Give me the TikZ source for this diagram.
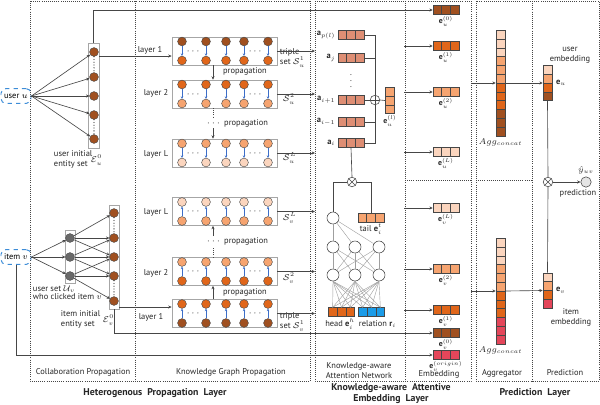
\RequirePackage{fix-cm}
\documentclass[tikz,border=0pt]{standalone}
\usepackage{amsmath}
\usepackage{fontspec}
\setmainfont{PT Sans}
\usepackage{tikz}
\usetikzlibrary{arrows.meta,calc,positioning}
\DeclareMathSizes{6}{6}{4.2}{3.4}
\DeclareMathSizes{5.5}{5.5}{3.9}{3.2}

\definecolor{kbrown}{RGB}{160,80,32}
\definecolor{korange}{RGB}{224,102,26}
\definecolor{klight}{RGB}{246,164,112}
\definecolor{kpale}{RGB}{251,213,190}
\definecolor{kred}{RGB}{228,70,90}
\definecolor{ksalmon}{RGB}{222,142,116}
\definecolor{kblue}{RGB}{28,156,232}
\definecolor{kgrey}{RGB}{105,105,105}
\definecolor{kdash}{RGB}{60,140,215}
\definecolor{kline}{RGB}{70,70,70}
\definecolor{kprop}{RGB}{60,110,200}

\tikzset{
  lbl/.style={font=\fontsize{6}{7}\selectfont, inner sep=0.5pt, text=black!85},
  vlbl/.style={font=\fontsize{5.5}{6}\selectfont, inner sep=0.5pt, text=black!85},
  layername/.style={font=\bfseries\fontsize{7}{7.2}\selectfont, align=center, inner sep=0pt, text=black!85},
  framebox/.style={draw=kline, densely dotted, line width=0.5pt},
  conn/.style={draw=kline, line width=0.45pt},
  arr/.style={conn, -{Stealth[length=2.4pt, width=2.2pt]}},
  kgarrow/.style={draw=kprop, line width=0.45pt, -{Stealth[length=1.8pt, width=1.8pt]}},
  nnline/.style={draw=gray!75, line width=0.3pt},
  dotline/.style={draw=kline, line width=0.9pt, dash pattern=on 0pt off 2pt, line cap=round},
  ent/.style={circle, draw=kline, line width=0.3pt, inner sep=0pt, minimum size=0.22cm},
  setbox/.style={draw=gray!70, line width=0.5pt, fill=white, inner sep=0pt},
  vecbox/.style={draw=gray!55!black, line width=0.4pt, inner sep=0pt, minimum width=0.65cm, minimum height=0.22cm},
  cellbox/.style={draw=gray!55!black, line width=0.4pt, inner sep=0pt, minimum width=0.225cm, minimum height=0.22cm},
  neuron/.style={circle, draw=kline, fill=white, line width=0.4pt, inner sep=0pt, minimum size=0.3cm},
  opnode/.style={circle, draw=kline, fill=white, line width=0.4pt, inner sep=0pt, minimum size=0.24cm},
  prodnode/.style={opnode, path picture={\draw[kline, line width=0.4pt] (path picture bounding box.north west) -- (path picture bounding box.south east) (path picture bounding box.north east) -- (path picture bounding box.south west);}},
  sumnode/.style={opnode, path picture={\draw[kline, line width=0.4pt] (path picture bounding box.north) -- (path picture bounding box.south) (path picture bounding box.west) -- (path picture bounding box.east);}},
  seed/.style={draw=kdash, dashed, line width=0.7pt, rounded corners=0.12cm, minimum width=0.75cm, minimum height=0.37cm, inner sep=1pt, font=\fontsize{6}{7}\selectfont},
}

% three-cell row vector: name, centre, colour
\newcommand{\hvec}[3]{%
  \node[vecbox, fill=#3] (#1) at (#2) {};
  \foreach \k in {1,2}
    \draw[draw=gray!55!black, line width=0.4pt] ($(#1.north west)!\k/3!(#1.north east)$) -- ($(#1.south west)!\k/3!(#1.south east)$);
}
% stacked column of cells: name, centre, number, colours
\newcommand{\cellcol}[4]{%
  \node[cellbox, minimum height=#3*0.22cm] (#1) at (#2) {};
  \foreach \c [count=\j] in {#4}
    \node[cellbox, fill=\c, anchor=north] at ($(#1.north)+(0,{(\j-1)*8.8})$) {};
}
% one layer of triples: name, centre y, head colour, tail colour, arrow from, arrow to
\newcommand{\kglayer}[6]{%
  \node[setbox, minimum width=2.625cm, minimum height=0.7cm] (#1) at (224.5,#2) {};
  \foreach \x [count=\i] in {182,206,226,244,268} {
    \node[ent, fill=#3] (#1t\i) at (\x,#2-9.5) {};
    \node[ent, fill=#4] (#1b\i) at (\x,#2+9.5) {};
    \draw[kgarrow] (#1#5\i) -- (#1#6\i);
  }
  \node[lbl] at (194,#2) {$\cdots$};
  \node[lbl] at (256,#2) {$\cdots$};
}

\begin{document}
\begin{tikzpicture}[x=0.025cm, y=-0.025cm]
\useasboundingbox (0,0) rectangle (600,404);

% Dotted frames of the three layers
\draw[framebox] (30,1) rectangle (310,381);
\draw[framebox] (135,1) -- (135,381);
\draw[framebox] (315,1) rectangle (471,381);
\draw[framebox] (405,1) -- (405,381) (405,180) -- (471,180);
\draw[framebox] (476,1) rectangle (599,381);
\draw[framebox] (532,1) -- (532,381) (476,180) -- (532,180);

% Collaboration propagation, user side
\node[seed] (useru) at (16,96) {user $u$};
\node[setbox, minimum width=0.275cm, minimum height=2.625cm] (uset) at (93.5,95.5) {};
\foreach \y [count=\i] in {52,77,96,115,139}
  \node[ent, fill=kbrown] (ue\i) at (94,\y) {};
\draw[dotline] (ue1.south) -- (ue2.north);
\draw[dotline] (ue4.south) -- (ue5.north);
\foreach \i in {1,...,5}
  \draw[arr] (useru.east) -- (ue\i);
\node[lbl, anchor=north west, align=left] at (53,150) {user initial\\entity set};
\node[lbl, anchor=west] at (90,160) {$\mathcal{E}_u^0$};

% Collaboration propagation, item side
\node[seed] (itemv) at (16,257) {item $v$};
\node[setbox, minimum width=0.25cm, minimum height=1.325cm] (gset) at (70,256.5) {};
\foreach \y [count=\i] in {238,257,276}
  \node[ent, fill=kgrey] (ug\i) at (70,\y) {};
\node[setbox, minimum width=0.25cm, minimum height=2.6cm] (iset) at (114,257) {};
\foreach \y [count=\i] in {213,238,257,276,301}
  \node[ent, fill=kbrown] (ie\i) at (114,\y) {};
\draw[dotline] (ie1.south) -- (ie2.north);
\draw[dotline] (ie4.south) -- (ie5.north);
\foreach \i in {1,2,3}
  \draw[arr] (itemv.east) -- (ug\i);
\foreach \i in {1,2,3}
  \foreach \j in {0,1,2} {
    \pgfmathtruncatemacro{\k}{\i+\j}
    \draw[arr] (ug\i) -- (ie\k);
  }
\node[lbl, anchor=west] at (32,289) {user set $\mathcal{U}_v$};
\node[lbl, anchor=west] at (32,297) {who clicked item $v$};
\node[lbl, anchor=north west, align=left] at (60,310) {item initial\\entity set};
\node[lbl, anchor=west] at (102,320) {$\mathcal{E}_v^0$};

% Knowledge graph propagation
\kglayer{ulA}{51}{kbrown}{korange}{t}{b}
\kglayer{ulB}{94}{korange}{klight}{t}{b}
\kglayer{ulL}{153}{klight}{kpale}{t}{b}
\kglayer{ilL}{211.5}{kpale}{klight}{b}{t}
\kglayer{ilB}{271.5}{klight}{korange}{b}{t}
\kglayer{ilA}{313.5}{korange}{kbrown}{b}{t}

\coordinate (prx) at (213,0);
\coordinate (uLdot) at (213,117);
\coordinate (uLin) at (213,128);
\coordinate (iLdot) at (213,247);
\coordinate (iLin) at (213,236);
\draw[arr] (ulA.south -| prx) -- (ulB.north -| prx);
\node[lbl] at (245,71) {propagation};
\draw[conn, densely dotted] (ulB.south -| prx) -- (uLdot);
\node[lbl, anchor=west] at (206,123) {$\cdots$ propagation};
\draw[arr] (uLin) -- (ulL.north -| prx);
\draw[arr] (ilA.north -| prx) -- (ilB.south -| prx);
\node[lbl] at (245,292) {propagation};
\draw[conn, densely dotted] (ilB.north -| prx) -- (iLdot);
\node[lbl, anchor=west] at (206,241) {$\cdots$ propagation};
\draw[arr] (iLin) -- (ilL.south -| prx);

\node[lbl] at (150,50) {layer 1};
\node[lbl] at (156,93) {layer 2};
\node[lbl] at (156,154) {layer L};
\node[lbl] at (156,212) {layer L};
\node[lbl] at (156,273) {layer 2};
\node[lbl] at (151,317) {layer 1};
\node[lbl, anchor=west] at (279,52) {triple};
\node[lbl, anchor=west] at (279,62) {set $\mathcal{S}_u^1$};
\node[lbl, anchor=west] at (282,99) {$\mathcal{S}_u^2$};
\node[lbl, anchor=west] at (282,158) {$\mathcal{S}_u^L$};
\node[lbl, anchor=west] at (282,218) {$\mathcal{S}_v^L$};
\node[lbl, anchor=west] at (282,278) {$\mathcal{S}_v^2$};
\node[lbl, anchor=west] at (279,316) {triple};
\node[lbl, anchor=west] at (279,326) {set $\mathcal{S}_v^1$};

\coordinate (uAy) at (0,56);
\coordinate (iAy) at (0,307);
\draw[arr] (uset.east |- uAy) -- (ulA.west |- uAy);
\draw[arr] (iset.east |- iAy) -- (ilA.west |- iAy);

% Embeddings in the embedding column
\hvec{eu0}{446,10}{kbrown}
\hvec{eu1}{446,46}{korange}
\hvec{eu2}{446,92}{klight}
\hvec{euL}{446,152}{kpale}
\hvec{evL}{446,208}{kpale}
\hvec{ev2}{446,269}{klight}
\hvec{ev1}{446,310}{korange}
\hvec{ev0}{446,333}{kbrown}
\hvec{evo}{446,355}{kred}
\node[vlbl, below=0.6pt of eu0] {$\mathbf{e}_u^{(0)}$};
\node[vlbl, below=0.6pt of eu1] {$\mathbf{e}_u^{(1)}$};
\node[vlbl, below=0.6pt of eu2] {$\mathbf{e}_u^{(2)}$};
\node[vlbl, below=0.6pt of euL] {$\mathbf{e}_u^{(L)}$};
\node[vlbl, below=0.6pt of evL] {$\mathbf{e}_v^{(L)}$};
\node[vlbl, below=0.6pt of ev2] {$\mathbf{e}_v^{(2)}$};
\node[vlbl, below=0.6pt of ev1] {$\mathbf{e}_v^{(1)}$};
\node[vlbl, below=0.6pt of ev0] {$\mathbf{e}_v^{(0)}$};
\node[vlbl, below=0.6pt of evo] {$\mathbf{e}_v^{(origin)}$};

\draw[arr] (uset.north) |- (eu0.west);
\draw[arr] (iset.south) |- (ev0.west);
\draw[arr] (itemv.south) |- (evo.west);

% KG layers into the attention network
\coordinate (kaanL) at (315,0);
\foreach \n in {ulA,ulB,ulL,ilL,ilB,ilA}
  \draw[arr] (\n.east) -- (\n.east -| kaanL);
\coordinate (embL) at (404,0);
\foreach \n in {eu1,eu2,euL,evL,ev2,ev1}
  \draw[arr] (\n.west -| embL) -- (\n.west);

% Attention weights and weighted sum
\foreach \y/\t [count=\i] in {35/p(l), 58/j, 100/i+1, 122/i-1, 143/i} {
  \hvec{a\i}{351,\y}{ksalmon}
  \node[lbl, anchor=east] at ([xshift=-1pt]a\i.west) {$\mathbf{a}_{\t}$};
}
\node[lbl] at (351,77) {$\vdots$};
\node[sumnode] (sum) at (375,100) {};
\draw[conn] (a1.east) -| (sum.north);
\draw[conn] (a5.east) -| (sum.south);
\draw[conn] (a2.east) -- (a2.east -| sum);
\draw[conn] (a4.east) -- (a4.east -| sum);
\draw[conn] (a3.east) -- (sum.west);
\cellcol{eul}{390,100.5}{3}{klight,klight,klight}
\draw[conn] (sum.east) -- (eul.west);
\node[vlbl, below=0.6pt of eul] {$\mathbf{e}_u^{(l)}$};

% Attention network
\node[prodnode] (att) at (352,182) {};
\draw[conn] (a5.south) -- (att.north);
\node[neuron] (nout) at (333,218) {};
\hvec{tail}{371,218}{klight}
\node[lbl] at (371,229) {tail $\mathbf{e}_i^t$};
\draw[conn] (att.west) -| (nout.north);
\draw[conn] (att.east) -| (tail.north);
\foreach \x [count=\i] in {333,355,379} {
  \node[neuron] (nh\i) at (\x,247) {};
  \node[neuron] (ni\i) at (\x,275) {};
}
\hvec{head}{341.5,312}{korange}
\hvec{rel}{371.5,312}{kblue}
\node[lbl, anchor=east] at (356,324) {head $\mathbf{e}_i^h$};
\node[lbl, anchor=west] at (358,324) {relation $\mathbf{r}_i$};
\foreach \i in {1,2,3} {
  \draw[nnline] (nout) -- (nh\i);
  \foreach \j in {1,2,3}
    \draw[nnline] (nh\i) -- (ni\j);
  \foreach \c in {head,rel}
    \foreach \k in {1,3,5}
      \draw[nnline] (ni\i.south) -- ($(\c.north west)!\k/6!(\c.north east)$);
}

% Aggregator
\cellcol{aggu}{500.5,83}{12}{kpale,kpale,kpale,klight,klight,klight,korange,korange,korange,kbrown,kbrown,kbrown}
\cellcol{aggv}{500.5,291}{12}{kpale,kpale,kpale,klight,klight,klight,korange,korange,korange,kred,kred,kred}
\node[lbl, below=1pt of aggu] {$Agg_{concat}$};
\node[lbl, below=1pt of aggv] {$Agg_{concat}$};

% Prediction
\cellcol{eu}{547.5,83}{4}{kpale,klight,korange,kbrown}
\cellcol{ev}{547.5,290.5}{4}{kpale,klight,korange,kred}
\node[lbl, right=2pt of eu] {$\mathbf{e}_u$};
\node[lbl, right=2pt of ev] {$\mathbf{e}_v$};
\node[lbl, align=center] at (570,55) {user\\embedding};
\node[lbl, align=center] at (571,317) {item\\embedding};
\coordinate (aggL) at (471,0);
\draw[arr] (aggu.west -| aggL) -- (aggu.west);
\draw[arr] (aggv.west -| aggL) -- (aggv.west);
\draw[arr] (aggu.east) -- (eu.west);
\draw[arr] (aggv.east) -- (ev.west);
\node[prodnode] (pm) at (548,182) {};
\node[opnode, fill=gray!20, minimum size=0.26cm] (yhat) at (586,182) {};
\draw[conn] (eu.south) -- (pm.north);
\draw[conn] (pm.south) -- (ev.north);
\draw[arr] (pm.east) -- (yhat.west);
\node[lbl, above=1pt of yhat] {$\hat{y}_{uv}$};
\node[lbl] at (578,193) {prediction};

% Frame captions
\node[lbl] at (83,372) {Collaboration Propagation};
\node[lbl] at (231,372) {Knowledge Graph Propagation};
\node[lbl, align=center] at (359,371) {Knowledge-aware\\Attention Network};
\node[lbl] at (439,374) {Embedding};
\node[lbl] at (502,373) {Aggregator};
\node[lbl] at (565,373) {Prediction};
\node[layername] at (155,393) {Heterogenous\ \ Propagation\ \ Layer};
\node[layername] at (391,393.5) {Knowledge-aware\ \ Attentive\\Embedding\ \ Layer};
\node[layername] at (535,393) {Prediction\ \ Layer};

\end{tikzpicture}
\end{document}
